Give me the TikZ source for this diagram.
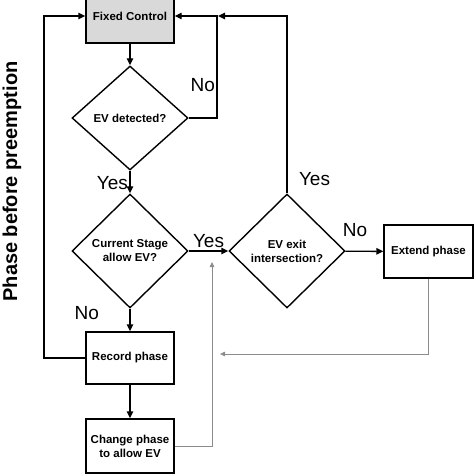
\documentclass[tikz,border=0pt]{standalone}
\usepackage{fontspec}
\setmainfont{Liberation Sans}
\usetikzlibrary{arrows.meta,positioning,shapes.geometric}

\begin{document}
\begin{tikzpicture}[
  x=1pt, y=-1pt,
  box/.style={draw, line width=1.4pt, minimum width=88pt, inner sep=0pt, align=center, font=\fontsize{11.5}{14}\selectfont\bfseries},
  dec/.style={draw, diamond, line width=1.4pt, minimum width=116pt, minimum height=104pt, inner sep=0pt, align=center, font=\fontsize{11.5}{14}\selectfont\bfseries},
  arr/.style={-{Triangle[length=7pt,width=6.5pt]}, line width=1.4pt},
  back/.style={-{Triangle[length=5pt,width=4.5pt]}, line width=0.8pt, color=black!45},
  ans/.style={font=\fontsize{19}{21}\selectfont},
  >=Triangle
]
  \useasboundingbox (0,0) rectangle (474,474);

  % Main column
  \node[box, fill=black!15, minimum height=54pt] (fc) at (130,16) {Fixed Control};
  \node[dec] (det) at (130,118) {EV detected?};
  \node[dec, minimum height=114pt] (stage) at (130,251) {Current Stage\\allow EV?};
  \node[box, minimum height=52pt] (rec) at (130,358) {Record phase};
  \node[box, minimum height=54pt] (chg) at (130,446) {Change phase\\to allow EV};

  % Right branch
  \node[dec, minimum height=114pt] (exit) at (287,251) {EV exit\\intersection?};
  \node[box, minimum width=89pt, minimum height=53pt] (ext) at (428.5,251.5) {Extend phase};

  % Free ends of the loops
  \coordinate (j1) at (217,16);
  \coordinate (j2) at (220,354);
  \coordinate (j3) at (212,262);

  % Forward flow
  \draw[arr] (fc) -- (det);
  \draw[arr] (det) -- (stage) node[ans, pos=0.55, left=-2pt] {Yes};
  \draw[arr] (stage) -- (exit) node[ans, midway, above=-1pt] {Yes};
  \draw[arr] (exit) -- (ext) node[ans, pos=0.25, above=11pt] {No};
  \draw[arr] (stage) -- (rec) node[ans, pos=0.2, left=27pt] {No};
  \draw[arr] (rec) -- (chg);

  % Loops back to Fixed Control
  \draw[arr] (det.east) -- (217,118) -- node[ans, pos=0.32, left=-2pt] {No} (j1) -- (fc.east);
  \draw[arr] (exit.north) -- node[ans, pos=0.08, right=8pt] {Yes} (287,16) -- ([xshift=1pt]j1);
  \draw[arr] (rec.west) -- (44,358) |- (fc.west);

  % Thin gray returns
  \draw[back] (ext.south) |- (j2);
  \draw[back] (chg.east) -| (j3);

  % Side label
  \node[rotate=90, anchor=base, font=\fontsize{20}{22}\selectfont\bfseries] (side) at (17,181.5) {Phase before preemption};
\end{tikzpicture}
\end{document}
